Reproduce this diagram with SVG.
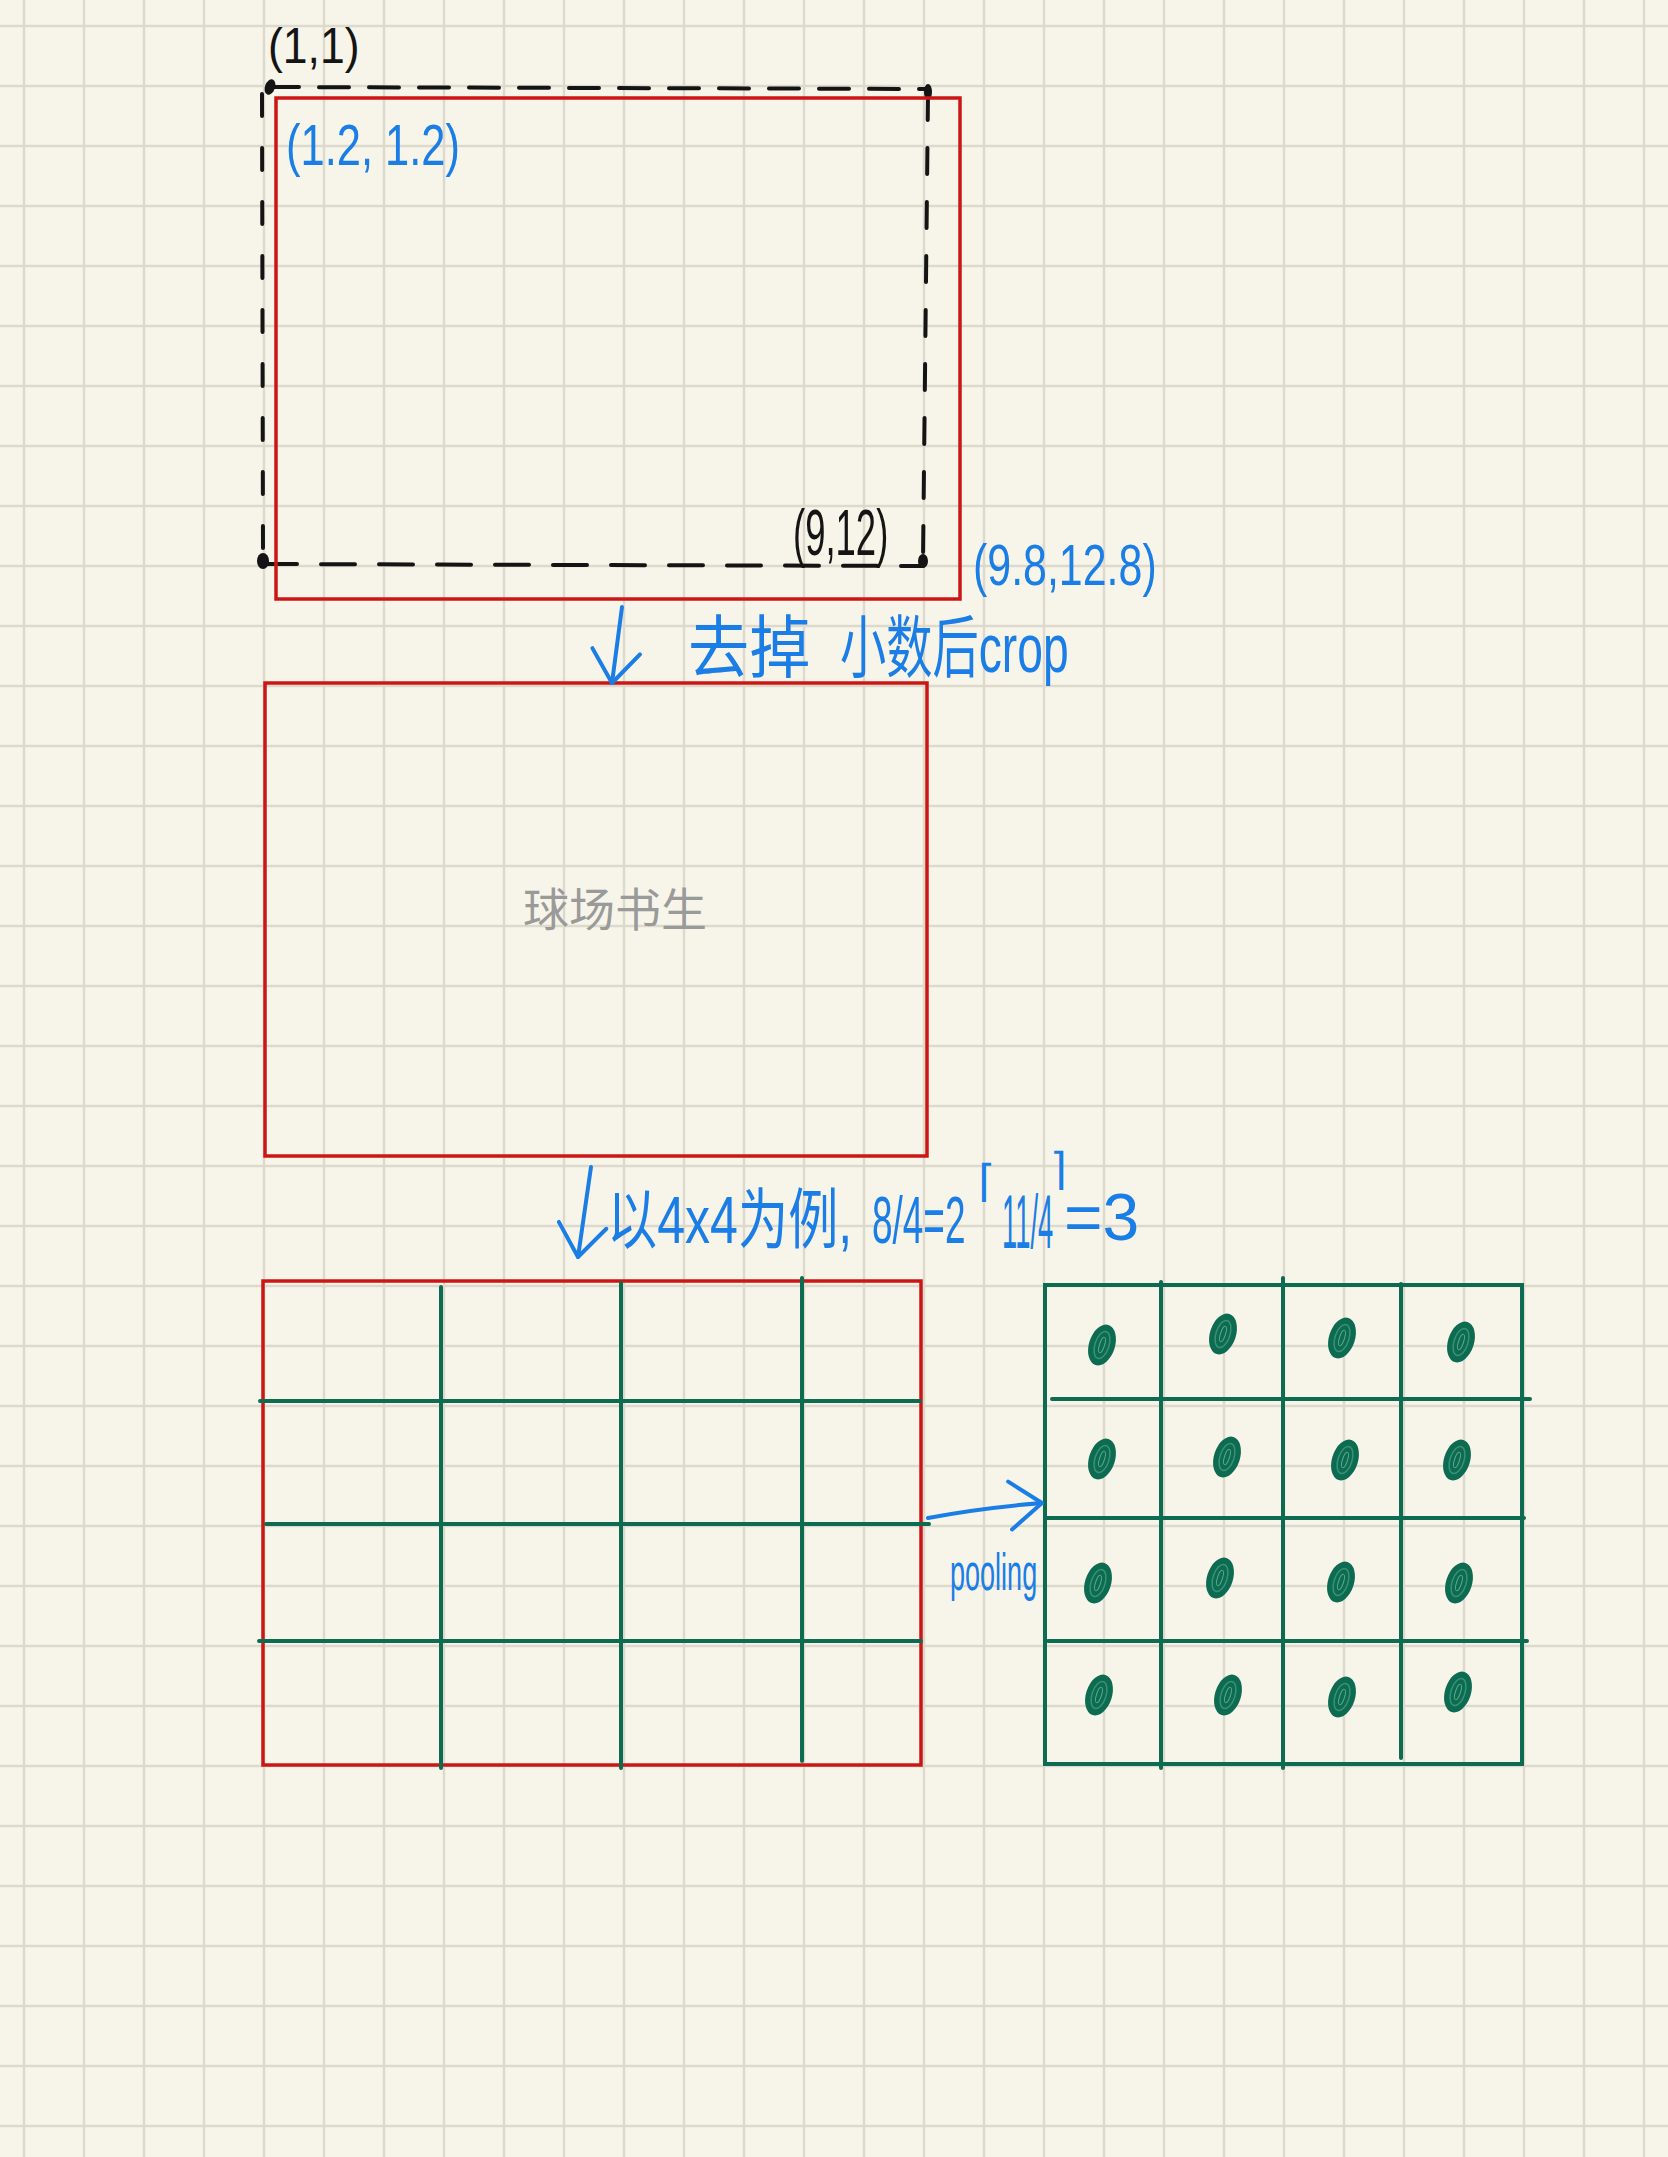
<svg xmlns="http://www.w3.org/2000/svg" width="1668" height="2157" viewBox="0 0 1668 2157">
<defs>
<style>
.hand{font-family:"Liberation Sans","DejaVu Sans","Noto Sans CJK SC",sans-serif;}
.blue{fill:#1b7de6;}
.ink{fill:#141414;}
.red{fill:none;stroke:#cc1616;stroke-width:3.5;}
.grn{fill:none;stroke:#0c6b50;stroke-width:4;stroke-linecap:round;}
.dash{fill:none;stroke:#141414;stroke-width:4;stroke-linecap:round;}
.conn{fill:none;stroke:#1b7de6;stroke-width:4;stroke-linecap:round;stroke-linejoin:round;}
</style>
<pattern id="grid" x="-6" y="-4" width="60" height="60" patternUnits="userSpaceOnUse">
<path d="M30 0V60M0 30H60" stroke="#dddacd" stroke-width="2.5" fill="none"/>
</pattern>
<marker id="vhead" markerUnits="userSpaceOnUse" markerWidth="60" markerHeight="60" refX="50" refY="30" orient="auto" overflow="visible">
<path d="M18,6 L50,30 L18,54" fill="none" stroke="#1b7de6" stroke-width="4" stroke-linecap="round" stroke-linejoin="round"/>
</marker>
<g id="blob">
<ellipse rx="13" ry="21" fill="#0c6b50" transform="rotate(18)"/>
<ellipse rx="7" ry="14" fill="none" stroke="#3a9274" stroke-width="1.5" transform="rotate(18)"/>
<ellipse rx="2.5" ry="8" fill="none" stroke="#5aa88b" stroke-width="1" transform="rotate(18)"/>
</g>
</defs>

<rect width="1668" height="2157" fill="#f7f5e9"/>
<rect width="1668" height="2157" fill="url(#grid)"/>

<g id="crop-region">
<path class="dash" d="M269,87 L928,89" stroke-dasharray="30 20"/>
<path class="dash" d="M928,94 L923,561" stroke-dasharray="26 28"/>
<path class="dash" d="M263,564 L923,566" stroke-dasharray="34 24"/>
<path class="dash" d="M262,94 L263,558" stroke-dasharray="22 32"/>
<ellipse cx="270" cy="87" rx="5" ry="8" fill="#141414" transform="rotate(20 270 87)"/>
<ellipse cx="928" cy="92" rx="4" ry="8" fill="#141414"/>
<ellipse cx="263" cy="561" rx="6" ry="8" fill="#141414"/>
<ellipse cx="923" cy="561" rx="5" ry="7" fill="#141414"/>
<text class="hand ink" font-size="50" transform="translate(268 63) scale(0.89 1)">(1,1)</text>
<text class="hand ink" font-size="64" transform="translate(793 555) scale(0.57 1)">(9,12)</text>
</g>

<g id="roi-box">
<rect class="red" x="276" y="98" width="684" height="501"/>
<text class="hand blue" font-size="58" transform="translate(286 165) scale(0.75 1)">(1.2, 1.2)</text>
<text class="hand blue" font-size="58" transform="translate(973 585) scale(0.74 1)">(9.8,12.8)</text>
</g>

<g id="step-crop-label">
<text class="hand blue" font-size="68" transform="translate(688 672) scale(0.9 1)">去掉</text>
<text class="hand blue" font-size="68" transform="translate(840 672) scale(0.68 1)">小数后crop</text>
</g>

<g id="cropped-box">
<rect class="red" x="265" y="683" width="662" height="473"/>
<text x="615" y="926" font-size="46" text-anchor="middle" fill="#9a9a9a" font-family="'Noto Sans CJK SC',sans-serif">球场书生</text>
</g>

<g id="step-pool-label">
<text class="hand blue" font-size="66" transform="translate(607 1243) scale(0.76 1)">以4x4为例,</text>
<text class="hand blue" font-size="66" transform="translate(872 1243) scale(0.56 1)">8/4=2</text>
<text class="hand blue" font-size="44" transform="translate(978 1196)">⌈</text>
<text class="hand blue" font-size="76" transform="translate(1002 1248) scale(0.36 1)">11/4</text>
<text class="hand blue" font-size="44" transform="translate(1050 1184)">⌉</text>
<text class="hand blue" font-size="66" transform="translate(1064 1240)">=3</text>
</g>

<g id="pool-input">
<rect class="red" x="263" y="1281" width="658" height="484"/>
<path class="grn" d="M441,1287V1768M621,1283V1768M802,1278V1761M260,1401H920M266,1524H929M259,1641H921"/>
</g>

<g id="pool-output">
<rect class="grn" x="1045" y="1285" width="477" height="479"/>
<path class="grn" d="M1161,1282V1768M1283,1278V1768M1401,1284V1758M1052,1399H1530M1047,1518H1524M1048,1641H1527"/>
<use href="#blob" x="1102" y="1345"/>
<use href="#blob" x="1223" y="1334"/>
<use href="#blob" x="1342" y="1338"/>
<use href="#blob" x="1461" y="1342"/>
<use href="#blob" x="1102" y="1459"/>
<use href="#blob" x="1227" y="1457"/>
<use href="#blob" x="1345" y="1460"/>
<use href="#blob" x="1457" y="1460"/>
<use href="#blob" x="1098" y="1583"/>
<use href="#blob" x="1220" y="1578"/>
<use href="#blob" x="1341" y="1582"/>
<use href="#blob" x="1459" y="1583"/>
<use href="#blob" x="1099" y="1695"/>
<use href="#blob" x="1228" y="1695"/>
<use href="#blob" x="1342" y="1697"/>
<use href="#blob" x="1458" y="1692"/>
</g>

<g id="connectors">
<path class="conn" d="M622,607 L612,683" marker-end="url(#vhead)"/>
<path class="conn" d="M591,1167 L578,1257" marker-end="url(#vhead)"/>
<path class="conn" d="M928,1518 Q980,1508 1042,1503" marker-end="url(#vhead)"/>
<text class="hand blue" font-size="52" transform="translate(950 1590) scale(0.52 1)">pooling</text>
</g>
</svg>
